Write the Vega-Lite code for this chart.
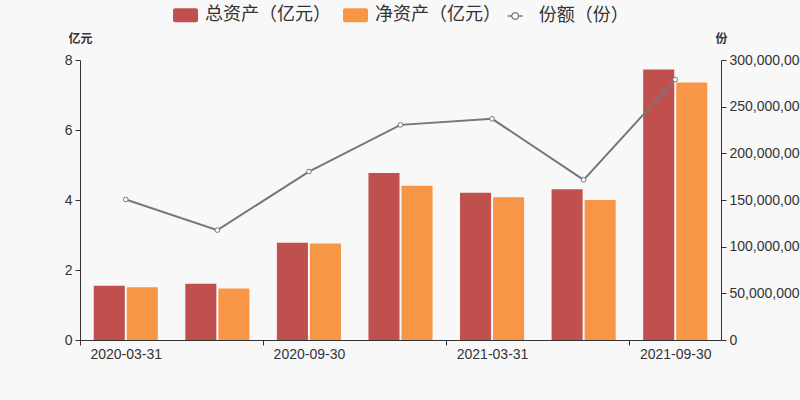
{
  "$schema": "https://vega.github.io/schema/vega-lite/v6.json",
  "width": 641,
  "height": 280,
  "autosize": {"type": "none"},
  "padding": {"left": 80, "top": 60, "right": 79, "bottom": 60},
  "background": "#f8f8f8",
  "config": {
    "view": {"stroke": null},
    "font": "Liberation Sans, Noto Sans CJK SC, sans-serif",
    "axis": {
      "domainColor": "#333333",
      "tickColor": "#333333",
      "tickSize": 5,
      "labelColor": "#333333",
      "labelFontSize": 14,
      "labelFont": "Liberation Sans, Noto Sans CJK SC, sans-serif",
      "grid": false,
      "titleFont": "Noto Sans CJK SC, sans-serif",
      "titleFontSize": 12,
      "titleFontWeight": "bold",
      "titleColor": "#333333"
    },
    "legend": {
      "labelFont": "Noto Sans CJK SC, sans-serif",
      "labelFontSize": 18,
      "labelColor": "#333333",
      "padding": 0
    }
  },
  "datasets": {
    "bars": [
      {"date": "2020-03-31", "series": "总资产（亿元）", "value": 1.55},
      {"date": "2020-03-31", "series": "净资产（亿元）", "value": 1.51},
      {"date": "2020-06-30", "series": "总资产（亿元）", "value": 1.61},
      {"date": "2020-06-30", "series": "净资产（亿元）", "value": 1.47},
      {"date": "2020-09-30", "series": "总资产（亿元）", "value": 2.78},
      {"date": "2020-09-30", "series": "净资产（亿元）", "value": 2.76},
      {"date": "2020-12-31", "series": "总资产（亿元）", "value": 4.77},
      {"date": "2020-12-31", "series": "净资产（亿元）", "value": 4.41},
      {"date": "2021-03-31", "series": "总资产（亿元）", "value": 4.21},
      {"date": "2021-03-31", "series": "净资产（亿元）", "value": 4.08},
      {"date": "2021-06-30", "series": "总资产（亿元）", "value": 4.31},
      {"date": "2021-06-30", "series": "净资产（亿元）", "value": 4.00},
      {"date": "2021-09-30", "series": "总资产（亿元）", "value": 7.73},
      {"date": "2021-09-30", "series": "净资产（亿元）", "value": 7.36}
    ],
    "share": [
      {"date": "2020-03-31", "share": 150500000},
      {"date": "2020-06-30", "share": 117700000},
      {"date": "2020-09-30", "share": 180500000},
      {"date": "2020-12-31", "share": 230500000},
      {"date": "2021-03-31", "share": 237000000},
      {"date": "2021-06-30", "share": 171600000},
      {"date": "2021-09-30", "share": 279000000}
    ]
  },
  "layer": [
    {
      "data": {"name": "bars"},
      "mark": {"type": "bar"},
      "encoding": {
        "x": {
          "field": "date",
          "type": "nominal",
          "sort": null,
          "scale": {"paddingInner": 0.3, "paddingOuter": 0.15},
          "axis": {
            "title": null,
            "labelAngle": 0,
            "values": ["2020-03-31", "2020-09-30", "2021-03-31", "2021-09-30"],
            "tickOffset": -45.785,
            "labelOffset": 45.785,
            "labelPadding": 2
          }
        },
        "xOffset": {
          "field": "series",
          "type": "nominal",
          "sort": ["总资产（亿元）", "净资产（亿元）"],
          "scale": {"paddingInner": 0.06, "paddingOuter": 0}
        },
        "y": {
          "field": "value",
          "type": "quantitative",
          "scale": {"domain": [0, 8]},
          "axis": {
            "values": [0, 2, 4, 6, 8],
            "title": "亿元",
            "titleAngle": 0,
            "titleX": 0,
            "titleY": -22,
            "titleAlign": "center",
            "titleBaseline": "middle",
            "labelPadding": 3
          }
        },
        "color": {
          "field": "series",
          "type": "nominal",
          "scale": {"domain": ["总资产（亿元）", "净资产（亿元）"], "range": ["#c0504d", "#f79646"]},
          "legend": {
            "title": null,
            "orient": "none",
            "direction": "horizontal",
            "legendX": 93,
            "legendY": -57.5,
            "symbolType": "M-0.84,-0.56H0.84A0.16,0.16 0 0 1 1,-0.4V0.4A0.16,0.16 0 0 1 0.84,0.56H-0.84A0.16,0.16 0 0 1 -1,0.4V-0.4A0.16,0.16 0 0 1 -0.84,-0.56Z",
            "symbolSize": 625,
            "symbolStrokeWidth": 0,
            "symbolOpacity": 1,
            "labelOffset": 7,
            "columnPadding": 12
          }
        }
      }
    },
    {
      "data": {"name": "share"},
      "encoding": {
        "x": {
          "field": "date",
          "type": "nominal",
          "sort": null,
          "axis": {
            "title": null,
            "labelAngle": 0,
            "values": ["2020-03-31", "2020-09-30", "2021-03-31", "2021-09-30"],
            "tickOffset": -45.785,
            "labelOffset": 45.785,
            "labelPadding": 2
          }
        },
        "y": {
          "field": "share",
          "type": "quantitative",
          "scale": {"domain": [0, 300000000]},
          "axis": {
            "orient": "right",
            "values": [0, 50000000, 100000000, 150000000, 200000000, 250000000, 300000000],
            "format": ",d",
            "title": "份",
            "titleAngle": 0,
            "titleX": 0,
            "titleY": -22,
            "titleAlign": "center",
            "titleBaseline": "middle",
            "labelPadding": 3
          }
        }
      },
      "layer": [
        {
          "mark": {"type": "line", "strokeWidth": 2},
          "encoding": {
            "stroke": {
              "datum": "份额（份）",
              "type": "nominal",
              "scale": {"range": ["#777777"]},
              "legend": {
                "title": null,
                "orient": "none",
                "direction": "horizontal",
                "legendX": 421.7,
                "legendY": -57.5,
                "symbolType": "M-0.6,0H-0.27M0.27,0H0.6M-0.27,0A0.27,0.27 0 1 1 0.27,0A0.27,0.27 0 1 1 -0.27,0",
                "symbolSize": 625,
                "symbolStrokeWidth": 1.3,
                "symbolFillColor": "#ffffff",
                "labelOffset": 10
              }
            }
          }
        },
        {
          "mark": {"type": "point", "filled": true, "fill": "#ffffff", "stroke": "#777777", "strokeWidth": 1, "size": 22, "opacity": 1},
          "encoding": {}
        }
      ]
    }
  ],
  "resolve": {"scale": {"y": "independent"}}
}
